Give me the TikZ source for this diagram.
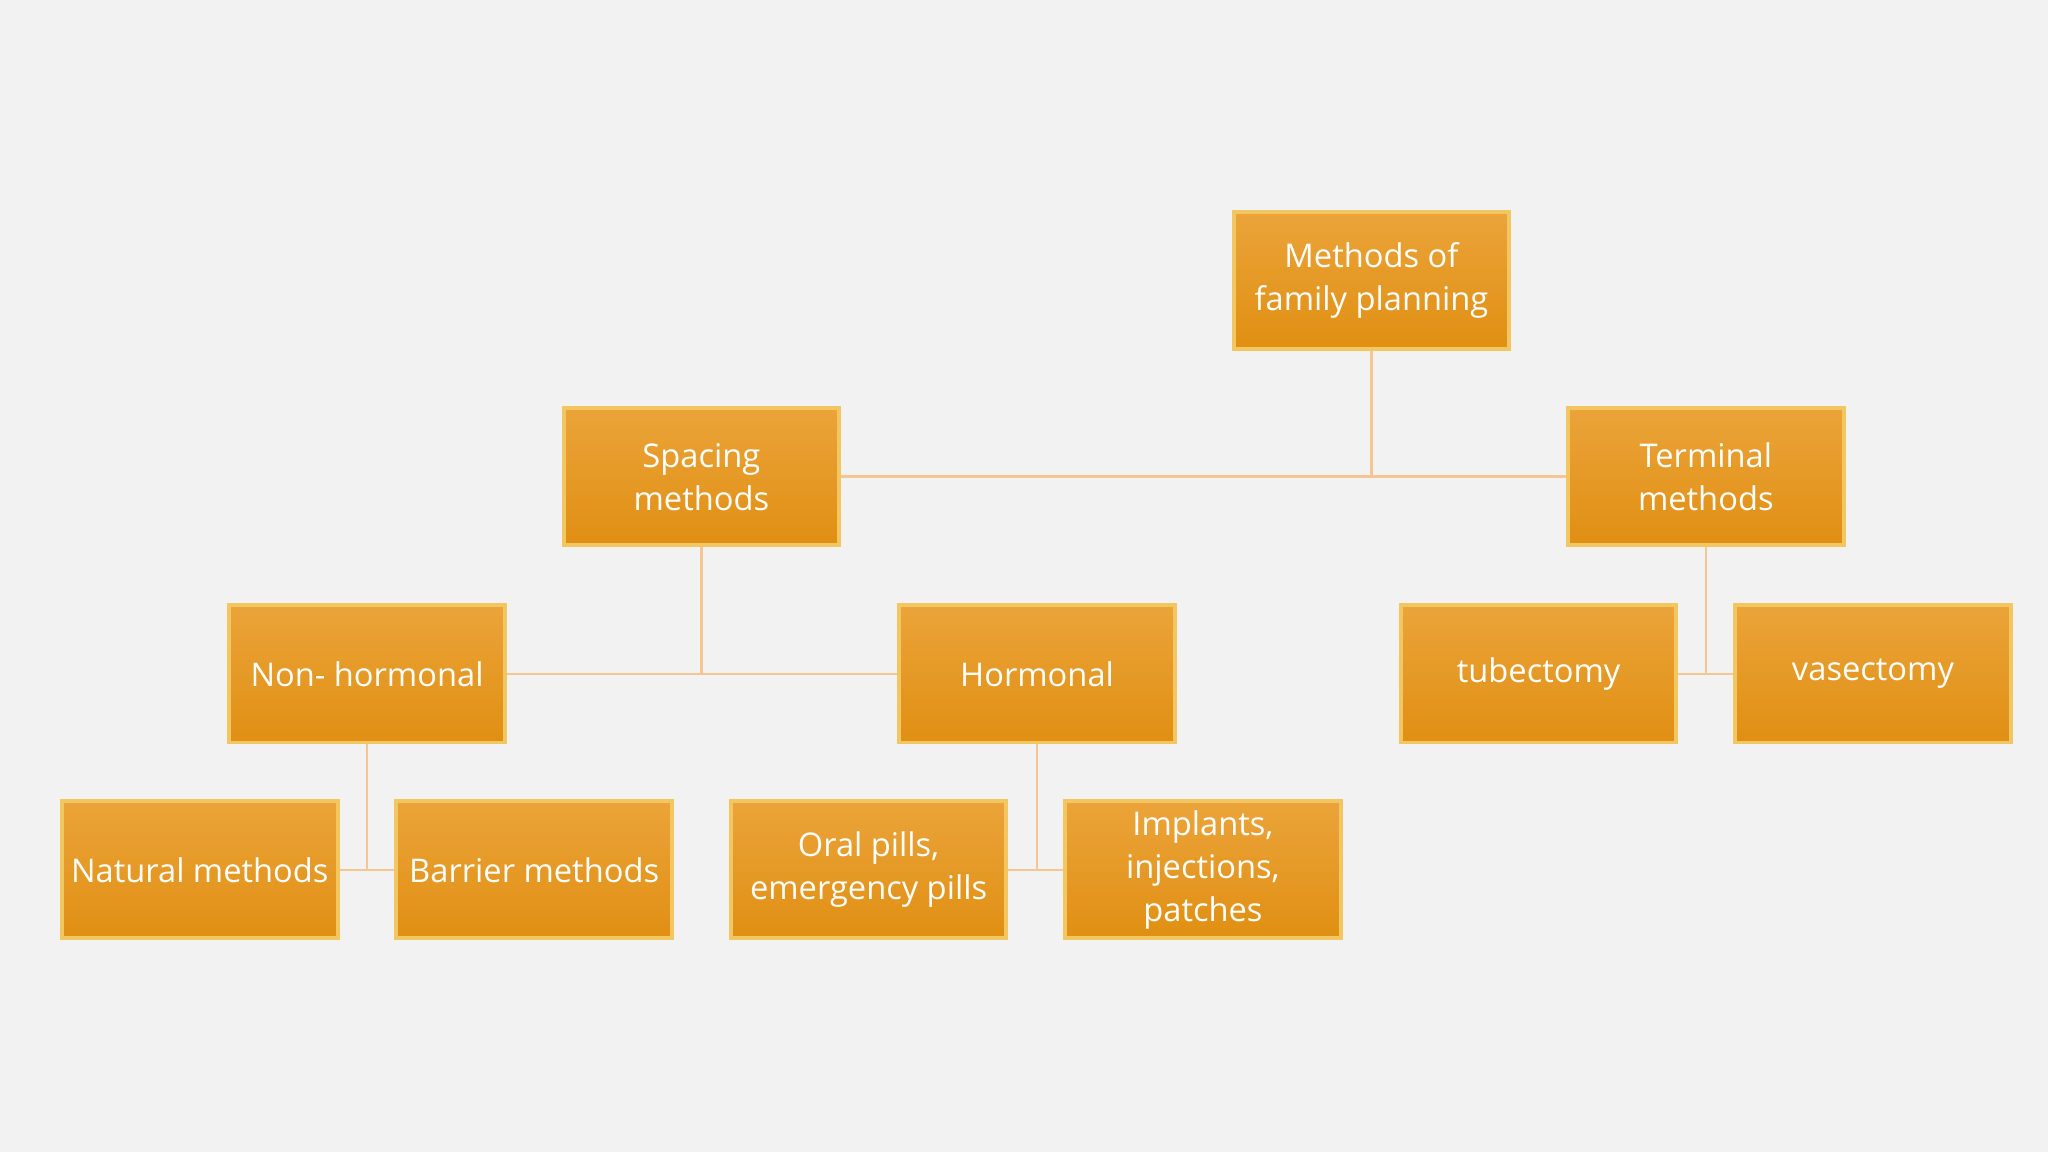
\documentclass[tikz,border=0pt]{standalone}
\usepackage{fontspec}
\setmainfont{Open Sans}
\begin{document}
\begin{tikzpicture}[x=0.5pt,y=-0.5pt,
  box/.style={minimum width=105.5pt,minimum height=52.5pt,inner sep=1pt,align=center,
    text=white,font=\fontsize{12.5}{16.5}\selectfont,
    top color=orange1,bottom color=orange2,draw=edge,line width=1.5pt},
  conn/.style={draw=linec,line width=1pt}]
\definecolor{orange1}{HTML}{EBA43A}
\definecolor{orange2}{HTML}{E08F12}
\definecolor{edge}{HTML}{F2C661}
\definecolor{linec}{HTML}{F5C594}
\definecolor{bg}{HTML}{F2F2F2}
\fill[bg] (0,0) rectangle (1568,882);
\useasboundingbox (0,0) rectangle (1568,882);
\node[box] (root) at (1050,215) {Methods of\\family planning};
\node[box] (sp) at (537,365) {Spacing\\methods};
\node[box] (te) at (1306,365) {Terminal\\methods};
\node[box] (nh) at (281,516) {Non- hormonal};
\node[box] (ho) at (794,516) {Hormonal};
\node[box] (tu) at (1178,516) {tubectomy};
\node[box] (va) at (1434,516) {vasectomy};
\node[box] (na) at (153,666) {Natural methods};
\node[box] (ba) at (409,666) {Barrier methods};
\node[box] (or) at (665,666) {Oral pills,\\emergency pills};
\node[box] (im) at (921,666) {Implants,\\injections,\\patches};
\coordinate (j1) at (root.south |- sp.east);
\coordinate (j2) at (sp.south |- nh.east);
\coordinate (j3) at (te.south |- tu.east);
\coordinate (j4) at (nh.south |- na.east);
\coordinate (j5) at (ho.south |- or.east);
\draw[conn] (root.south) -- (j1);
\draw[conn] (sp.east) -- (te.west);
\draw[conn] (sp.south) -- (j2);
\draw[conn] (nh.east) -- (ho.west);
\draw[conn] (te.south) -- (j3);
\draw[conn] (tu.east) -- (va.west);
\draw[conn] (nh.south) -- (j4);
\draw[conn] (na.east) -- (ba.west);
\draw[conn] (ho.south) -- (j5);
\draw[conn] (or.east) -- (im.west);
\end{tikzpicture}
\end{document}
